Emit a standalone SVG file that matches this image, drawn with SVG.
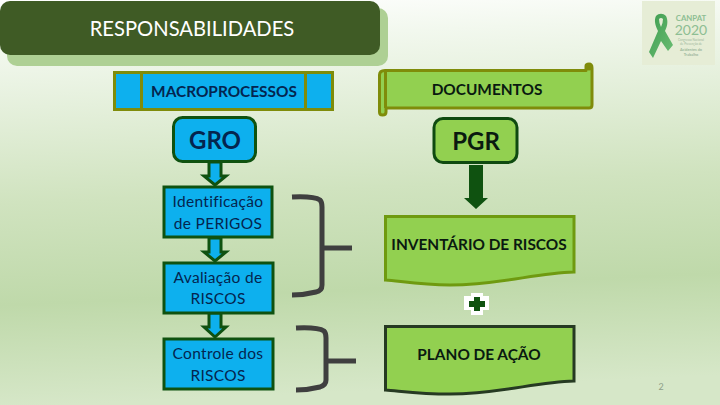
<svg xmlns="http://www.w3.org/2000/svg" width="720" height="405" viewBox="0 0 720 405">
<style>
text{font-family:"Lato","Open Sans","Liberation Sans",sans-serif;text-anchor:middle}
.blue{fill:#0DB0EE;stroke:#0F5210;stroke-width:3}
.green{fill:#92D050;stroke:#0F4A10;stroke-width:3}
.arrow{fill:#0DB0EE;stroke:#0F5210;stroke-width:3;stroke-linejoin:miter}
.brace{fill:none;stroke:#3F3F3F;stroke-width:5;stroke-linecap:butt}
.n{font-size:15.500px;fill:#04254F;letter-spacing:.3px}
.h{font-size:15.400px;font-weight:700;fill:#0A1A10}
.big{font-size:24px;font-weight:700}
</style>
<defs>
<linearGradient id="bg" x1="0" y1="0" x2="0.08" y2="1">
<stop offset="0" stop-color="#FFFFFF"/>
<stop offset="0.12" stop-color="#F2F8EE"/>
<stop offset="0.5" stop-color="#D0E3BF"/>
<stop offset="0.75" stop-color="#BFD9AA"/>
<stop offset="1" stop-color="#D6E7C8"/>
</linearGradient>
<linearGradient id="rib" x1="0" y1="0" x2="1" y2="1">
<stop offset="0" stop-color="#3E9C50"/>
<stop offset="1" stop-color="#6CBE74"/>
</linearGradient>
</defs>
<rect width="720" height="405" fill="url(#bg)"/>
<g id="header">
<rect x="7" y="8" width="381" height="58" rx="10" fill="#AED094"/>
<rect x="0" y="1" width="380" height="54" rx="10" fill="#3F5B25"/>
<text x="192" y="36" font-size="20.200" fill="#FFFFFF">RESPONSABILIDADES</text>
</g>
<g id="logo">
<rect x="642" y="1" width="73" height="64" fill="#E6EDD6"/>
<path d="M656 16C654 20 655 25 658 31L649 52L653 58L661 41L668 51L673 45L665 31C668 25 668 20 666 16C663 13 659 13 656 16ZM659 19Q661 17 663 19Q663 23 661 27Q659 23 659 19Z" fill="url(#rib)" fill-rule="evenodd"/>
<text x="691" y="20.500" font-size="7.800" font-weight="700" fill="#8DBE93">CANPAT</text>
<text x="691" y="35" font-size="14" fill="#8DBE93">2020</text>
<g font-size="3" fill="#9DB79C">
<text x="691" y="41">Congresso Nacional</text>
<text x="691" y="45">de Prevenção de</text>
<text x="691" y="51" font-size="3.800" font-weight="700">Acidentes do</text>
<text x="691" y="56" font-size="3.800" font-weight="700">Trabalho</text>
</g>
</g>
<g id="connectors">
<path class="arrow" d="M209 162H221V176H226L215 185L204 176H209Z"/>
<path class="arrow" d="M209 238H221V252H226L215 261L204 252H209Z"/>
<path class="arrow" d="M209 313H221V327H226L215 337L204 327H209Z"/>
<path d="M469 165H483V198H488L476 209L464 198H469Z" fill="#0F5210"/>
<path class="brace" d="M292 197Q314 196 320 200Q322 202 322 207V285Q322 291 316 292Q304 295 292 295"/>
<path class="brace" d="M322 248H352" stroke-width="6"/>
<path class="brace" d="M296 328Q318 327 324 331Q326 333 326 338V380Q326 385 320 387Q308 390 296 390"/>
<path class="brace" d="M326 361H356" stroke-width="6"/>
</g>
<g id="macroprocessos">
<rect x="114.500" y="72.500" width="218" height="37" fill="#0DB0EE" stroke="#7F8C0A" stroke-width="3"/>
<path d="M141.500 72V110M305.500 72V110" stroke="#7F8C0A" stroke-width="3"/>
<text class="h" x="224" y="97" style="fill:#04254F">MACROPROCESSOS</text>
</g>
<g id="gro">
<rect class="blue" x="173.500" y="117.500" width="82" height="44" rx="9"/>
<text class="big" x="215" y="149" fill="#04254F">GRO</text>
</g>
<g id="identificacao">
<rect class="blue" x="164" y="187" width="108" height="50"/>
<text class="n" x="218" y="207">Identificação</text>
<text class="n" x="218" y="229">de PERIGOS</text>
</g>
<g id="avaliacao">
<rect class="blue" x="164" y="263" width="109" height="50"/>
<text class="n" x="218" y="283">Avaliação de</text>
<text class="n" x="218" y="304">RISCOS</text>
</g>
<g id="controle">
<rect class="blue" x="164" y="339" width="109" height="50"/>
<text class="n" x="218" y="359">Controle dos</text>
<text class="n" x="218" y="381">RISCOS</text>
</g>
<g id="documentos">
<path d="M385 70.500H586V66Q586 64 589 64Q592 64 592 68V105Q592 108 589 108H386V112Q386 115 382.500 115Q379.500 115 379.500 112V75Q379.500 70.500 385 70.500Z" fill="#92D050" stroke="#7F8C0A" stroke-width="3" stroke-linejoin="round"/>
<path d="M385.500 72V108" stroke="#7F8C0A" stroke-width="3"/>
<circle cx="589" cy="67" r="3.500" fill="#7F8C0A"/>
<text class="h" x="487" y="95" style="fill:#0A1A10">DOCUMENTOS</text>
</g>
<g id="pgr">
<rect class="green" x="434" y="118.500" width="83" height="44" rx="9"/>
<text class="big" x="476" y="150" fill="#0A1A10">PGR</text>
</g>
<g id="inventario">
<path d="M385.500 216.500H574V272C535 273 500 285 450 285C420 285 400 281 385.500 280Z" fill="#92D050" stroke="#6F9A10" stroke-width="3"/>
<text class="h" x="479" y="250" style="fill:#0A1A10">INVENTÁRIO DE RISCOS</text>
</g>
<g id="mais">
<path d="M471 293H483V296H489V310H483V315H471V310H464V296H471Z" fill="#FFFFFF"/>
<path d="M474 297H480V301H485V307H480V311H474V307H469V301H474Z" fill="#0F5210"/>
</g>
<g id="plano">
<path d="M385.500 326.500H574V381C535 382 500 394 450 394C420 394 400 391 385.500 390Z" fill="#92D050" stroke="#263A22" stroke-width="3"/>
<text class="h" x="479" y="360" style="fill:#0A1A10">PLANO DE AÇÃO</text>
</g>
<text x="661" y="390" font-size="9" fill="#8E9E88">2</text>
</svg>
